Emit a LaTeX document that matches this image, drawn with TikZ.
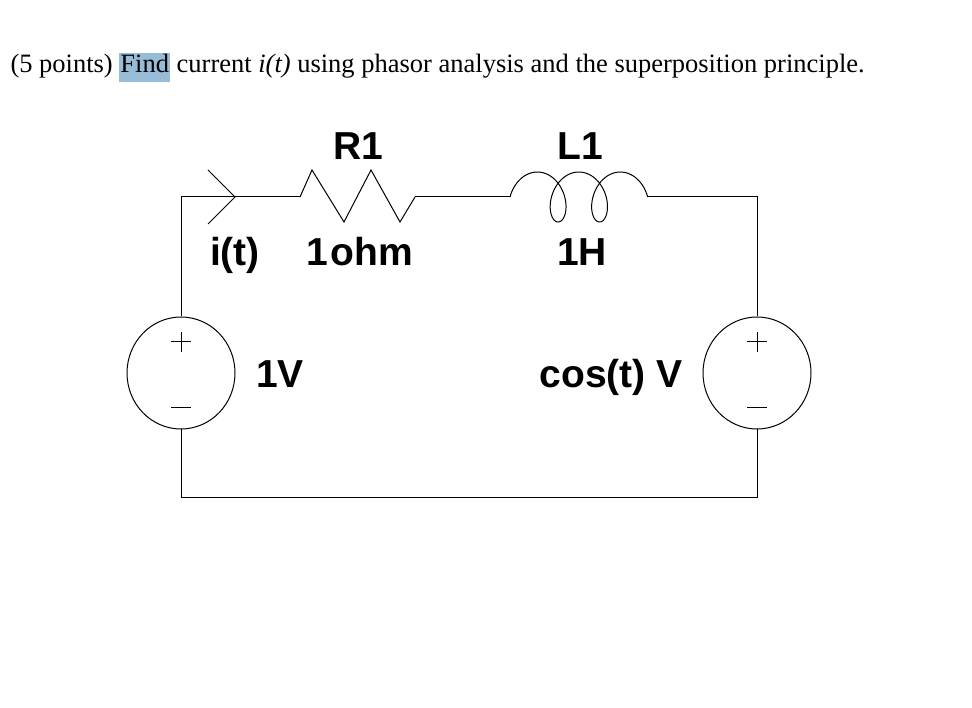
\documentclass[tikz,border=0pt]{standalone}
\usepackage{fontspec}
\setmainfont{Liberation Serif}
\newfontfamily\lbl{Liberation Sans}
\usetikzlibrary{shapes.geometric}
\definecolor{hilite}{RGB}{150,188,216}
\begin{document}
\begin{tikzpicture}[x=1pt,y=-1pt,line width=1pt,
	every node/.style={inner sep=0pt},
	tag/.style={anchor=base,font=\lbl\fontsize{39}{39}\selectfont\bfseries},
	src/.style={draw,ellipse,minimum width=108pt,minimum height=112pt}]
	\useasboundingbox (0,0) rectangle (972,708);
	\path (10,73) node[anchor=base west,font=\fontsize{26.5}{26.5}\selectfont] (title)
		{(5 points) {\setlength\fboxsep{1pt}\colorbox{hilite}{\strut Find}} current \textit{i(t)} using phasor analysis and the superposition principle.};
	% corners and component ends
	\coordinate (tl) at (181,197);
	\coordinate (tr) at (757,197);
	\coordinate (bl) at (181,497);
	\coordinate (br) at (757,497);
	\coordinate (r1a) at (300,197);
	\coordinate (r1b) at (415,197);
	\coordinate (l1a) at (510,197);
	\coordinate (l1b) at (648,197);
	\node[src] (vsL) at (181,373) {};
	\node[src] (vsR) at (757,373) {};
	% wires
	\draw (vsL.north) -- (tl) -- (r1a);
	\draw (r1b) -- (l1a);
	\draw (l1b) -- (tr) -- (vsR.north);
	\draw (vsL.south) -- (bl) -- (br) -- (vsR.south);
	% resistor
	\draw (r1a) -- ++(12,-27) -- ++(32,52) -- ++(27,-52) -- ++(29,52) -- (r1b);
	% inductor
	\draw[shift={(l1a)}] plot[domain=0:15.708,samples=160,variable=\t]
		({17+6.6*\t-17*cos(\t r)},{-25*sin(\t r)});
	% current arrow
	\draw (208,170) -- (235,197) -- (208,224);
	% signs
	\draw (171,342) -- (191,342) (181,332) -- (181,352);
	\draw (171,408) -- (191,408);
	\draw (747,342) -- (767,342) (757,332) -- (757,352);
	\draw (747,408) -- (767,408);
	% labels
	\node[tag] (r1name) at (358,160) {R1};
	\node[tag] (l1name) at (580,160) {L1};
	\node[tag] (curr) at (235,266) {i(t)};
	\node[tag] (r1val) at (360,266) {1\hspace{2pt}ohm};
	\node[tag] (l1val) at (582,266) {1H};
	\node[tag] (vsLval) at (280,388) {1V};
	\node[tag] (vsRval) at (611,388) {cos(t) V};
\end{tikzpicture}
\end{document}
